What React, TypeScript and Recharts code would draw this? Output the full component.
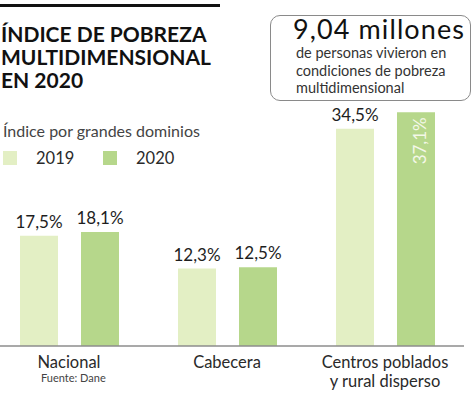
import { BarChart, Bar, XAxis, YAxis, LabelList } from "recharts";

const dominios = ["Nacional", "Cabecera", "Centros poblados\ny rural disperso"];
const valores2019 = [17.5, 12.3, 34.5];
const valores2020 = [18.1, 12.5, 37.1];
const yDomain = [0, 40];

const C2019 = "#e3efc4";
const C2020 = "#b6d78b";
const FONT = "Lato, 'Open Sans', sans-serif";

const data = dominios.map((d, i) => ({
  dominio: d,
  "2019": valores2019[i],
  "2020": valores2020[i],
}));

const series = [
  { key: "2019", color: C2019 },
  { key: "2020", color: C2020 },
];

const fmt = (v: number) => `${v.toFixed(1).replace(".", ",")}%`;

// tick label, may have two lines
const DomTick = (props: any) => {
  const { x, y, payload } = props;
  const lines = String(payload.value).split("\n");
  return (
    <text x={x} y={y} textAnchor="middle" fontFamily={FONT} fontSize={16.5} fill="#2a2a2a">
      {lines.map((l, i) => (
        <tspan key={i} x={x} dy={i === 0 ? 14 : 18.5}>
          {l}
        </tspan>
      ))}
    </text>
  );
};

const TopLabel = (props: any) => {
  const { x, y, width, value } = props;
  return (
    <text x={x + width / 2} y={y - 8} textAnchor="middle" fontFamily={FONT} fontSize={17} fill="#1e1e1e">
      {fmt(value)}
    </text>
  );
};

// 2020 labels: the tall one goes inside the bar, rotated
const Label2020 = (props: any) => {
  const { x, y, width, value } = props;
  const cx = x + width / 2 + 4;
  if (value > 30) {
    return (
      <text
        x={cx}
        y={y + 5}
        transform={`rotate(-90 ${cx} ${y + 5})`}
        textAnchor="end"
        dominantBaseline="central"
        fontFamily={FONT}
        fontSize={17}
        fill="#f4f8e8"
      >
        {fmt(value)}
      </text>
    );
  }
  return <TopLabel {...props} />;
};

export default function App() {
  return (
    <div style={{ position: "absolute", left: 0, top: 0, width: 474, height: 395, background: "#fff", fontFamily: FONT }}>
      <div style={{ position: "absolute", left: 0, top: 4, width: 220, height: 3, background: "#111" }} />
      <div
        style={{
          position: "absolute",
          left: 1,
          top: 22,
          fontSize: 21,
          lineHeight: "23px",
          fontWeight: 700,
          color: "#111",
          whiteSpace: "nowrap",
        }}
      >
        ÍNDICE DE POBREZA
        <br />
        MULTIDIMENSIONAL
        <br />
        EN 2020
      </div>

      <div
        style={{
          position: "absolute",
          left: 270,
          top: 15,
          width: 201,
          height: 86,
          boxSizing: "border-box",
          border: "1.5px solid #8a8a8a",
          borderRadius: 10,
        }}
      />
      <div
        style={{
          position: "absolute",
          left: 293,
          top: 14,
          fontSize: 27,
          letterSpacing: 1.1,
          lineHeight: "30px",
          color: "#111",
          whiteSpace: "nowrap",
        }}
      >
        9,04 millones
      </div>
      <div style={{ position: "absolute", left: 296, top: 44, fontSize: 14.5, lineHeight: "17.5px", color: "#333", whiteSpace: "nowrap" }}>
        de personas vivieron en
        <br />
        condiciones de pobreza
        <br />
        multidimensional
      </div>

      <div style={{ position: "absolute", left: 3, top: 121, fontSize: 16, color: "#444", whiteSpace: "nowrap" }}>
        Índice por grandes dominios
      </div>

      <div style={{ position: "absolute", left: 3, top: 148, display: "flex", alignItems: "center", fontSize: 16.5, color: "#2a2a2a" }}>
        {series.map((s) => (
          <div key={s.key} style={{ display: "flex", alignItems: "center", width: 100 }}>
            <span style={{ width: 14, height: 14, background: s.color, display: "inline-block", marginRight: 19 }} />
            {s.key}
          </div>
        ))}
      </div>

      <div style={{ position: "absolute", left: -10, top: 0 }}>
        <BarChart
          width={474}
          height={395}
          data={data}
          margin={{ top: 94, right: 0, bottom: 9, left: 0 }}
          barSize={38}
          barGap={23}
        >
          <XAxis
            dataKey="dominio"
            height={40}
            axisLine={{ stroke: "#8c8c8c", strokeWidth: 1.5 }}
            tickLine={false}
            tick={<DomTick />}
            interval={0}
          />
          <YAxis hide domain={yDomain} />
          <Bar dataKey="2019" fill={C2019} isAnimationActive={false}>
            <LabelList dataKey="2019" content={<TopLabel />} />
          </Bar>
          <Bar dataKey="2020" fill={C2020} isAnimationActive={false}>
            <LabelList dataKey="2020" content={<Label2020 />} />
          </Bar>
        </BarChart>
      </div>

      <div style={{ position: "absolute", left: 41, top: 372, fontSize: 11, lineHeight: "12px", color: "#444" }}>Fuente: Dane</div>
    </div>
  );
}
